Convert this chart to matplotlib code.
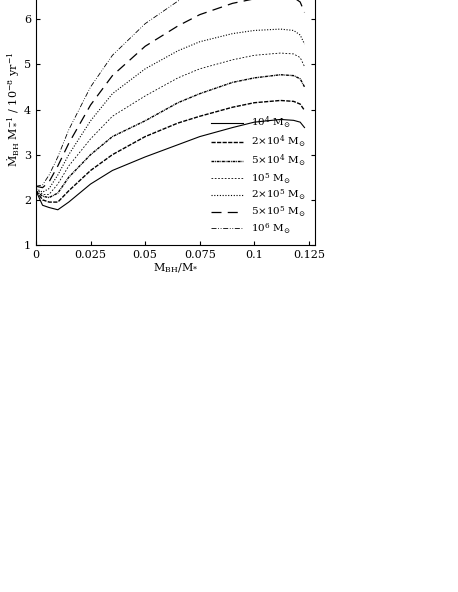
import matplotlib
matplotlib.use("Agg")
import matplotlib.pyplot as plt

plt.rcParams['font.family'] = ['DejaVu Serif']
plt.rcParams['mathtext.fontset'] = 'dejavuserif'

x = [0, 0.003, 0.006, 0.01, 0.015, 0.025, 0.035, 0.05, 0.065, 0.075, 0.09, 0.1, 0.112, 0.118, 0.121, 0.123]
series = {
    r'$10^4$ M$_{\odot}$': [2.2, 1.88, 1.83, 1.78, 1.95, 2.35, 2.65, 2.95, 3.22, 3.4, 3.6, 3.72, 3.78, 3.76, 3.72, 3.6],
    r'$2{\times}10^4$ M$_{\odot}$': [2.2, 2.0, 1.95, 1.95, 2.2, 2.65, 3.0, 3.4, 3.7, 3.85, 4.05, 4.15, 4.2, 4.18, 4.12, 3.98],
    r'$5{\times}10^4$ M$_{\odot}$': [2.2, 2.08, 2.05, 2.15, 2.5, 3.0, 3.4, 3.75, 4.15, 4.35, 4.6, 4.7, 4.77, 4.75, 4.68, 4.5],
    r'$10^5$ M$_{\odot}$': [2.25, 2.12, 2.12, 2.35, 2.75, 3.35, 3.85, 4.3, 4.7, 4.9, 5.1, 5.2, 5.25, 5.23, 5.15, 4.95],
    r'$2{\times}10^5$ M$_{\odot}$': [2.25, 2.17, 2.25, 2.55, 3.0, 3.75, 4.35, 4.9, 5.3, 5.5, 5.68, 5.75, 5.78, 5.75, 5.65, 5.45],
    r'$5{\times}10^5$ M$_{\odot}$': [2.3, 2.27, 2.4, 2.75, 3.25, 4.1, 4.75, 5.4, 5.85, 6.1, 6.35, 6.45, 6.5, 6.48, 6.38, 6.15],
    r'$10^6$ M$_{\odot}$': [2.3, 2.33, 2.55, 2.95, 3.55, 4.5, 5.2, 5.9, 6.4, 6.7, 7.0, 7.1, 7.15, 7.12, 7.0, 6.8],
}
styles = ['-', (0, (3, 1)), (0, (2, 0.6, 0.6, 0.6)), (0, (2, 2)), (0, (1, 1.5)), (0, (8, 5)), (0, (6, 2, 1, 2, 1, 2))]
widths = [0.8, 1.0, 1.0, 0.6, 0.8, 0.9, 0.6]

fig = plt.figure(figsize=(4.58, 5.92), dpi=100)
ax = fig.add_axes([36/458, 1-245/592, 279/458, 271/592])
for (lab, y), ls, lw in zip(series.items(), styles, widths):
    ax.plot(x, y, color='black', linestyle=ls, linewidth=lw, label=lab)
ax.set_xlim(0, 0.1278)
ax.set_ylim(1, 7)
ax.set_xticks([0, 0.025, 0.05, 0.075, 0.1, 0.125])
ax.set_xticklabels(['0', '0.025', '0.05', '0.075', '0.1', '0.125'])
ax.set_yticks([1, 2, 3, 4, 5, 6])
ax.tick_params(direction='in', top=True, right=True, labelsize=8, length=3)
ax.set_xlabel(r'M$_{\rm BH}$/M$_{*}$', fontsize=8, labelpad=1)
ax.set_ylabel(r'$\dot{\rm M}_{\rm BH}$ M$_*^{-1}$ / $10^{-8}$ yr$^{-1}$', fontsize=8, labelpad=2)
ax.legend(loc='lower right', frameon=False, fontsize=7.5, handlelength=3, labelspacing=0.25, bbox_to_anchor=(1.0, 0.0))
fig.savefig('out.png', dpi=100)
